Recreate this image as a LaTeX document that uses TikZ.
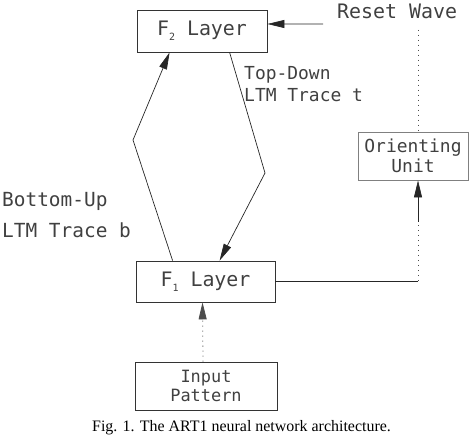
\documentclass[tikz,border=0pt]{standalone}
\usepackage{fontspec}
\usetikzlibrary{arrows.meta,calc}
\newfontfamily\plotfont{DejaVu Sans Mono}
\newfontfamily\capfont{Liberation Serif}
\newcommand{\fsz}[1]{\fontsize{#1}{#1}\selectfont}
\newcommand{\subtwo}[1]{\raisebox{-5bp}{\fsz{10}#1}}
\begin{document}
\begin{tikzpicture}[x=1bp,y=-1bp,
  box/.style={draw=black!80, line width=0.8bp, rectangle, inner sep=0pt, text=black!75, font=\plotfont},
  lbl/.style={text=black!75, font=\plotfont, inner sep=0pt},
  caplbl/.style={text=black, font=\capfont, inner sep=0pt},
  arr/.style={draw=black!85, line width=0.7bp, -{Triangle[length=17bp,width=8bp]}},
  dotline/.style={draw=black!70, line width=0.8bp, dash pattern=on 1bp off 4bp},
]
\useasboundingbox (0,0) rectangle (474,439);
% boxes
\node[box, minimum width=130bp, minimum height=42bp] (f2) at (202,31) {\fsz{20}F\subtwo{2} Layer};
\node[box, minimum width=139bp, minimum height=41bp] (f1) at (205.5,281.5) {\fsz{20}F\subtwo{1} Layer};
\node[box, minimum width=142bp, minimum height=48bp, align=center] (inp) at (206,386) {\fsz{17}Input\\[2bp]\fsz{17}Pattern};
\node[box, draw=black!50, minimum width=110bp, minimum height=48bp, align=center] (orient) at (413,156) {\fsz{18}Orienting\\[2bp]\fsz{18}Unit};
% labels
\node[lbl, anchor=west] (reset) at (337,11) {\fsz{20}Reset Wave};
\node[lbl, anchor=west, align=left] (td) at (244,84) {\fsz{18}Top-Down\\[4bp]\fsz{18}LTM Trace t};
\node[lbl, anchor=west, align=left] (bu) at (2,215) {\fsz{19.5}Bottom-Up\\[12bp]\fsz{19.5}LTM Trace b};
\node[caplbl, anchor=center] (cap) at (241.5,428) {\fsz{16}Fig. 1. The ART1 neural network architecture.};
% coordinates
\coordinate (rs) at (323,24);
\coordinate (rw) at (418,30);
\coordinate (bend1) at (133,140);
\coordinate (bend2) at (265,173);
\coordinate (corner) at (418,281);
\coordinate (oab) at (418,222);
% connectors
\draw[arr] (rs) -- ([yshift=7bp]f2.east);
\draw[dotline] (rw) -- (rw |- orient.north);
\draw[arr] ([xshift=37bp]f1.north west) -- (bend1) -- ([xshift=33bp]f2.south west);
\draw[arr] ([xshift=93bp]f2.south west) -- (bend2) -- ([xshift=84bp]f1.north west);
\draw[draw=black!85, line width=0.8bp] (f1.east |- corner) -- (corner);
\draw[dotline] (corner) -- (oab);
\draw[arr] (oab) -- (oab |- orient.south);
\draw[dotline, -{Triangle[length=17bp,width=8bp]}] ([xshift=-3bp]inp.north) -- ([xshift=-3bp]f1.south);
\end{tikzpicture}
\end{document}
